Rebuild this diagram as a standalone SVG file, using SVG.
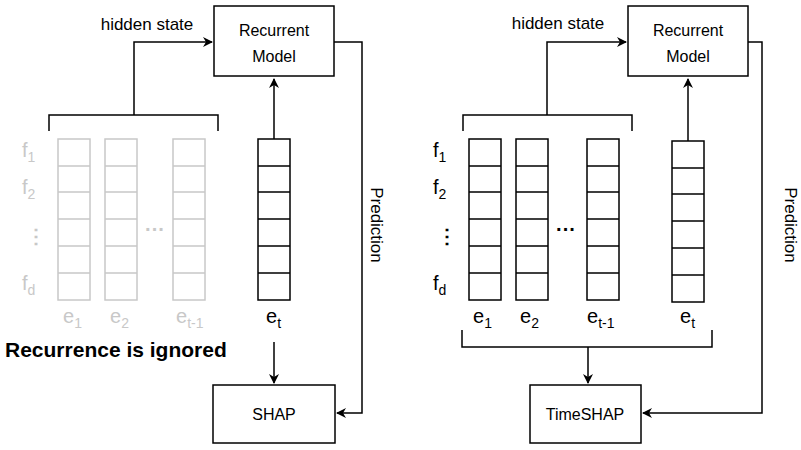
<svg xmlns="http://www.w3.org/2000/svg" width="801" height="450" viewBox="0 0 801 450">
<style>
text{font-family:"Liberation Sans",Arial,sans-serif;fill:#000}
.box{fill:#fff;stroke:#000;stroke-width:1.5}
.ln{fill:none;stroke:#000;stroke-width:1.5}
.g{fill:none;stroke:#c8c8c8;stroke-width:1.5}
.k{fill:none;stroke:#000;stroke-width:1.5}
.gt{fill:#c8c8c8}
.lab{font-size:16px;text-anchor:middle}
.big{font-size:17px;text-anchor:middle}
.sub{font-size:14px}
</style>
<defs>
<marker id="a" markerWidth="10" markerHeight="10" refX="9" refY="5" orient="auto" markerUnits="userSpaceOnUse"><path d="M0,0 L10,5 L0,10 L3,5 Z" fill="#000"/></marker>
<g id="colG"><rect x="0" y="0" width="32" height="161" class="g"/><path class="g" d="M0,27H32M0,53H32M0,80H32M0,107H32M0,134H32"/></g>
<g id="colK"><rect x="0" y="0" width="32" height="161" class="k"/><path class="k" d="M0,27H32M0,53H32M0,80H32M0,107H32M0,134H32"/></g>
</defs>
<g id="connectors">
<path class="ln" d="M49,131V115H218V131M134,115V42H212" marker-end="url(#a)"/>
<path class="ln" d="M274,139V79" marker-end="url(#a)"/>
<path class="ln" d="M274,342V383" marker-end="url(#a)"/>
<path class="ln" d="M334,42H362V413H337" marker-end="url(#a)"/>
<path class="ln" d="M463,131V115H632V131M547,115V42H626" marker-end="url(#a)"/>
<path class="ln" d="M688,141V79" marker-end="url(#a)"/>
<path class="ln" d="M462,330V347H712V330M588,347V383" marker-end="url(#a)"/>
<path class="ln" d="M748,42H762V413H643" marker-end="url(#a)"/>
</g>
<g id="rm1"><rect class="box" x="214" y="6" width="120" height="70"/><text class="lab" x="274" y="36">Recurrent</text><text class="lab" x="274" y="62">Model</text></g>
<text x="147" y="30" class="big">hidden state</text>
<g id="shap"><rect class="box" x="213" y="385" width="122" height="58"/><text class="lab" x="274" y="420">SHAP</text></g>
<text x="376" y="225" transform="rotate(90 376 225)" class="big" dominant-baseline="central">Prediction</text>
<g id="left-cols">
<use href="#colG" x="58" y="139"/><use href="#colG" x="105" y="139"/><use href="#colG" x="173" y="139"/>
<text x="155" y="236" class="gt" style="font-size:20px;font-weight:bold;text-anchor:middle">···</text>
<g style="font-size:20px">
<text x="22" y="157" class="gt">f<tspan class="sub" dy="5">1</tspan></text>
<text x="22" y="194" class="gt">f<tspan class="sub" dy="5">2</tspan></text>
<text x="26" y="243" class="gt" style="font-weight:bold">⋮</text>
<text x="22" y="290" class="gt">f<tspan class="sub" dy="5">d</tspan></text>
<text x="63" y="323" class="gt">e<tspan class="sub" dy="5">1</tspan></text>
<text x="110" y="323" class="gt">e<tspan class="sub" dy="5">2</tspan></text>
<text x="176" y="323" class="gt">e<tspan class="sub" dy="5">t-1</tspan></text>
</g>
</g>
<g id="et1"><use href="#colK" x="258" y="139"/><text x="266" y="323" style="font-size:20px">e<tspan class="sub" dy="5">t</tspan></text></g>
<text x="5" y="357" style="font-size:21px;font-weight:bold">Recurrence is ignored</text>
<g id="rm2"><rect class="box" x="628" y="6" width="120" height="70"/><text class="lab" x="688" y="36">Recurrent</text><text class="lab" x="688" y="62">Model</text></g>
<text x="558" y="29" class="big">hidden state</text>
<g id="timeshap"><rect class="box" x="530" y="385" width="111" height="58"/><text class="lab" x="585" y="420">TimeSHAP</text></g>
<text x="790" y="225" transform="rotate(90 790 225)" class="big" dominant-baseline="central">Prediction</text>
<g id="right-cols" style="font-size:20px">
<use href="#colK" x="469" y="139"/><use href="#colK" x="516" y="139"/><use href="#colK" x="587" y="139"/>
<text x="566" y="236" style="font-size:20px;font-weight:bold;text-anchor:middle">···</text>
<text x="433" y="157">f<tspan class="sub" dy="5">1</tspan></text>
<text x="433" y="194">f<tspan class="sub" dy="5">2</tspan></text>
<text x="437" y="243" style="font-weight:bold">⋮</text>
<text x="433" y="290">f<tspan class="sub" dy="5">d</tspan></text>
<text x="473" y="323">e<tspan class="sub" dy="5">1</tspan></text>
<text x="520" y="323">e<tspan class="sub" dy="5">2</tspan></text>
<text x="587" y="323">e<tspan class="sub" dy="5">t-1</tspan></text>
</g>
<g id="et2"><use href="#colK" x="672" y="141"/><text x="680" y="323" style="font-size:20px">e<tspan class="sub" dy="5">t</tspan></text></g>
</svg>
